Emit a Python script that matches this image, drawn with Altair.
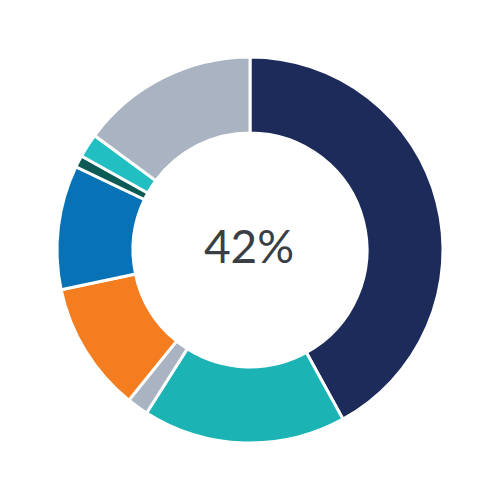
import altair as alt
import pandas as pd

categories = ["A", "B", "C", "D", "E", "F", "G", "H"]
values = [42, 17, 1.8, 10.9, 10.4, 1, 2, 14.9]
colors = ["#1c2b59", "#1cb3b5", "#a9b3c1", "#f47d20", "#0872b6", "#0b5a55", "#22bfc2", "#a9b3c1"]
center_label = "42%"

df = pd.DataFrame({"cat": categories, "value": values, "order": list(range(len(values)))})

base = alt.Chart(df).encode(
    theta=alt.Theta("value:Q", stack=True),
    order=alt.Order("order:Q"),
)

arcs = base.mark_arc(outerRadius=193, innerRadius=117, stroke="white", strokeWidth=3).encode(
    color=alt.Color("cat:N", scale=alt.Scale(domain=categories, range=colors), legend=None)
)

text = alt.Chart(pd.DataFrame({"t": [center_label]})).mark_text(
    fontSize=46, font="Lato", fontWeight=400, color="#3a3f45", baseline="middle", align="center"
).encode(text="t:N", x=alt.value(241), y=alt.value(241))

chart = (arcs + text).properties(width=484, height=484, padding=0).configure_view(stroke=None)

chart.save("out.html", embed_options={"renderer": "svg", "actions": False})
